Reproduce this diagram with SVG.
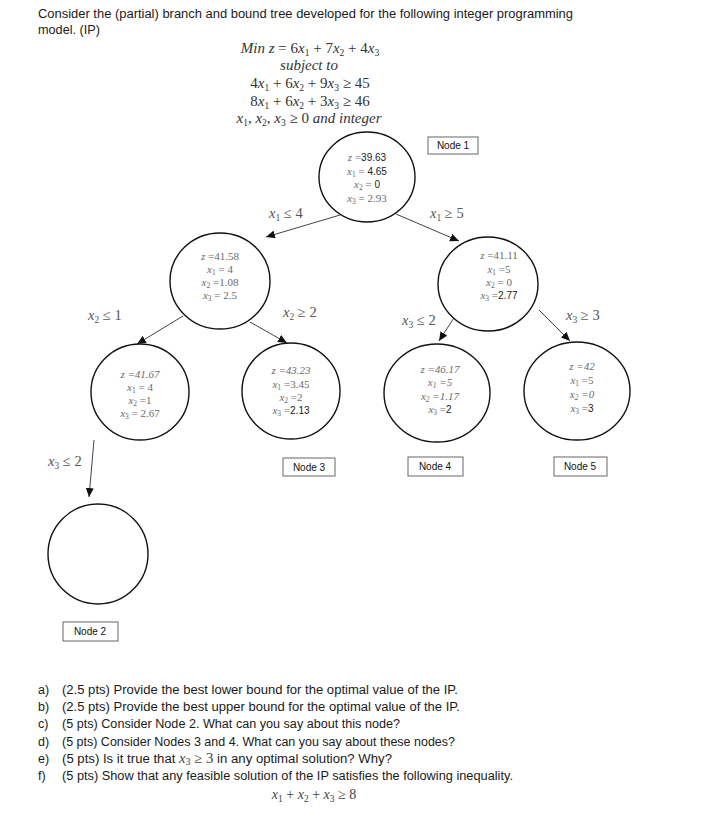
<svg xmlns="http://www.w3.org/2000/svg" width="725" height="835" viewBox="0 0 725 835">
<defs>
<marker id="ah" markerWidth="9" markerHeight="8" refX="9" refY="4" orient="auto" markerUnits="userSpaceOnUse"><path d="M0,0 L9,4 L0,8 z" fill="#111"/></marker>
</defs>
<style>
.t{font-family:"Liberation Sans",Arial,sans-serif;font-size:12.5px;fill:#1a1a1a}
.m{font-family:"Liberation Serif","DejaVu Serif",serif;font-size:15px;fill:#333;text-anchor:middle}
.i{font-style:italic}
.s{font-size:9.5px}
.ss{font-size:7.5px}
.n{font-family:"Liberation Serif","DejaVu Serif",serif;font-size:11px;fill:#6b6b6b;text-anchor:middle}
.d{font-family:"Liberation Sans",Arial,sans-serif;fill:#222;font-size:10px}
.lb{font-family:"Liberation Serif","DejaVu Serif",serif;font-size:14.5px;fill:#555}
.c{fill:#fff;stroke:#111;stroke-width:1.4}
.bx{fill:#fff;stroke:#666;stroke-width:1}
.bt{font-family:"Liberation Sans",Arial,sans-serif;font-size:10px;fill:#111;text-anchor:middle}
.e{stroke:#444;stroke-width:1;fill:none;marker-end:url(#ah)}
</style>

<g id="intro">
<text class="t" x="38" y="18" textLength="535" lengthAdjust="spacingAndGlyphs">Consider the (partial) branch and bound tree developed for the following integer programming</text>
<text class="t" x="38" y="34" textLength="62" lengthAdjust="spacingAndGlyphs">model. (IP)</text>
</g>

<g id="model">
<text class="m" x="310" y="53"><tspan class="i">Min z</tspan> = 6<tspan class="i">x</tspan><tspan class="s" dy="3">1</tspan><tspan dy="-3"> + 7</tspan><tspan class="i">x</tspan><tspan class="s" dy="3">2</tspan><tspan dy="-3"> + 4</tspan><tspan class="i">x</tspan><tspan class="s" dy="3">3</tspan></text>
<text class="m i" x="309" y="70">subject to</text>
<text class="m" x="310" y="88">4<tspan class="i">x</tspan><tspan class="s" dy="3">1</tspan><tspan dy="-3"> + 6</tspan><tspan class="i">x</tspan><tspan class="s" dy="3">2</tspan><tspan dy="-3"> + 9</tspan><tspan class="i">x</tspan><tspan class="s" dy="3">3</tspan><tspan dy="-3"> ≥ 45</tspan></text>
<text class="m" x="310" y="106">8<tspan class="i">x</tspan><tspan class="s" dy="3">1</tspan><tspan dy="-3"> + 6</tspan><tspan class="i">x</tspan><tspan class="s" dy="3">2</tspan><tspan dy="-3"> + 3</tspan><tspan class="i">x</tspan><tspan class="s" dy="3">3</tspan><tspan dy="-3"> ≥ 46</tspan></text>
<text class="m" x="309" y="123"><tspan class="i">x</tspan><tspan class="s" dy="3">1</tspan><tspan dy="-3">, </tspan><tspan class="i">x</tspan><tspan class="s" dy="3">2</tspan><tspan dy="-3">, </tspan><tspan class="i">x</tspan><tspan class="s" dy="3">3</tspan><tspan dy="-3"> ≥ 0 </tspan><tspan class="i">and integer</tspan></text>
</g>

<g id="connectors">
<line class="e" x1="340" y1="215" x2="266" y2="237"/>
<line class="e" x1="396" y1="214" x2="459" y2="241"/>
<line class="e" x1="183" y1="316" x2="137" y2="344"/>
<line class="e" x1="250" y1="322" x2="287" y2="343"/>
<line class="e" x1="459" y1="310" x2="439" y2="341"/>
<line class="e" x1="539" y1="310" x2="570" y2="341"/>
<line class="e" x1="94" y1="440" x2="89" y2="497"/>
<text class="lb" x="269" y="218"><tspan class="i">x</tspan><tspan class="s" dy="3">1</tspan><tspan dy="-3"> ≤ 4</tspan></text>
<text class="lb" x="430" y="218"><tspan class="i">x</tspan><tspan class="s" dy="3">1</tspan><tspan dy="-3"> ≥ 5</tspan></text>
<text class="lb" x="88" y="320"><tspan class="i">x</tspan><tspan class="s" dy="3">2</tspan><tspan dy="-3"> ≤ 1</tspan></text>
<text class="lb" x="283" y="317"><tspan class="i">x</tspan><tspan class="s" dy="3">2</tspan><tspan dy="-3"> ≥ 2</tspan></text>
<text class="lb" x="402" y="325"><tspan class="i">x</tspan><tspan class="s" dy="3">3</tspan><tspan dy="-3"> ≤ 2</tspan></text>
<text class="lb" x="566" y="320"><tspan class="i">x</tspan><tspan class="s" dy="3">3</tspan><tspan dy="-3"> ≥ 3</tspan></text>
<text class="lb" x="48" y="466"><tspan class="i">x</tspan><tspan class="s" dy="3">3</tspan><tspan dy="-3"> ≤ 2</tspan></text>
</g>

<g id="node1">
<ellipse class="c" cx="367" cy="177" rx="48" ry="45"/>
<text class="n" x="367" y="161"><tspan class="i">z</tspan> =<tspan class="d">39.63</tspan></text>
<text class="n" x="367" y="175"><tspan class="i">x</tspan><tspan class="ss" dy="2">1</tspan><tspan dy="-2"> = </tspan><tspan class="d">4.65</tspan></text>
<text class="n" x="367" y="188"><tspan class="i">x</tspan><tspan class="ss" dy="2">2</tspan><tspan dy="-2"> = </tspan><tspan class="d">0</tspan></text>
<text class="n" x="367" y="202"><tspan class="i">x</tspan><tspan class="ss" dy="2">3</tspan><tspan dy="-2"> = 2.93</tspan></text>
<rect class="bx" x="428" y="137" width="50" height="17"/>
<text class="bt" x="453" y="149">Node 1</text>
</g>

<g id="nodeL">
<ellipse class="c" cx="220" cy="281" rx="50" ry="48"/>
<text class="n" x="220" y="260"><tspan class="i">z</tspan> =41.58</text>
<text class="n" x="220" y="273"><tspan class="i">x</tspan><tspan class="ss" dy="2">1</tspan><tspan dy="-2"> = 4</tspan></text>
<text class="n" x="220" y="286"><tspan class="i">x</tspan><tspan class="ss" dy="2">2</tspan><tspan dy="-2"> =1.08</tspan></text>
<text class="n" x="220" y="299"><tspan class="i">x</tspan><tspan class="ss" dy="2">3</tspan><tspan dy="-2"> = 2.5</tspan></text>
</g>

<g id="nodeR">
<ellipse class="c" cx="488" cy="284" rx="50" ry="47"/>
<text class="n" x="499" y="259"><tspan class="i">z</tspan> =41.11</text>
<text class="n" x="499" y="273"><tspan class="i">x</tspan><tspan class="ss" dy="2">1</tspan><tspan dy="-2"> =5</tspan></text>
<text class="n" x="499" y="286"><tspan class="i">x</tspan><tspan class="ss" dy="2">2</tspan><tspan dy="-2"> = 0</tspan></text>
<text class="n" x="499" y="299"><tspan class="i">x</tspan><tspan class="ss" dy="2">3</tspan><tspan dy="-2"> =</tspan><tspan class="d">2.77</tspan></text>
</g>

<g id="node2parent">
<ellipse class="c" cx="140" cy="392" rx="49" ry="48"/>
<text class="n i" x="140" y="378">z =41.67</text>
<text class="n" x="140" y="391"><tspan class="i">x</tspan><tspan class="ss" dy="2">1</tspan><tspan dy="-2"> = 4</tspan></text>
<text class="n" x="140" y="404"><tspan class="i">x</tspan><tspan class="ss" dy="2">2</tspan><tspan dy="-2"> =1</tspan></text>
<text class="n" x="140" y="417"><tspan class="i">x</tspan><tspan class="ss" dy="2">3</tspan><tspan dy="-2"> = 2.67</tspan></text>
</g>

<g id="node3">
<ellipse class="c" cx="291" cy="391" rx="49" ry="48"/>
<text class="n i" x="291" y="374">z =43.23</text>
<text class="n" x="291" y="388"><tspan class="i">x</tspan><tspan class="ss" dy="2">1</tspan><tspan dy="-2"> =3.45</tspan></text>
<text class="n" x="291" y="401"><tspan class="i">x</tspan><tspan class="ss" dy="2">2</tspan><tspan dy="-2"> =2</tspan></text>
<text class="n" x="291" y="414"><tspan class="i">x</tspan><tspan class="ss" dy="2">3</tspan><tspan dy="-2"> =</tspan><tspan class="d">2.13</tspan></text>
<rect class="bx" x="283" y="458" width="52" height="18"/>
<text class="bt" x="309" y="471">Node 3</text>
</g>

<g id="node4">
<ellipse class="c" cx="437" cy="393" rx="53" ry="49"/>
<text class="n i" x="440" y="373">z =46.17</text>
<text class="n i" x="440" y="386">x<tspan class="ss" dy="2">1</tspan><tspan dy="-2"> =5</tspan></text>
<text class="n i" x="440" y="400">x<tspan class="ss" dy="2">2</tspan><tspan dy="-2"> =1.17</tspan></text>
<text class="n" x="440" y="413"><tspan class="i">x</tspan><tspan class="ss" dy="2">3</tspan><tspan dy="-2"> =</tspan><tspan class="d">2</tspan></text>
<rect class="bx" x="408" y="457" width="55" height="19"/>
<text class="bt" x="435" y="470">Node 4</text>
</g>

<g id="node5">
<ellipse class="c" cx="577" cy="391" rx="53" ry="49"/>
<text class="n i" x="582" y="370">z =42</text>
<text class="n" x="582" y="384"><tspan class="i">x</tspan><tspan class="ss" dy="2">1</tspan><tspan dy="-2"> =5</tspan></text>
<text class="n i" x="582" y="398">x<tspan class="ss" dy="2">2</tspan><tspan dy="-2"> =0</tspan></text>
<text class="n" x="582" y="412"><tspan class="i">x</tspan><tspan class="ss" dy="2">3</tspan><tspan dy="-2"> =</tspan><tspan class="d">3</tspan></text>
<rect class="bx" x="554" y="457" width="53" height="19"/>
<text class="bt" x="580" y="470">Node 5</text>
</g>

<g id="node2">
<ellipse class="c" cx="98" cy="554" rx="50" ry="50"/>
<rect class="bx" x="63" y="622" width="55" height="19"/>
<text class="bt" x="90" y="635">Node 2</text>
</g>

<g id="questions">
<text class="t" x="38" y="694">a)</text>
<text class="t" x="62" y="694" textLength="396" lengthAdjust="spacingAndGlyphs">(2.5 pts) Provide the best lower bound for the optimal value of the IP.</text>
<text class="t" x="38" y="711">b)</text>
<text class="t" x="62" y="711" textLength="398" lengthAdjust="spacingAndGlyphs">(2.5 pts) Provide the best upper bound for the optimal value of the IP.</text>
<text class="t" x="38" y="728">c)</text>
<text class="t" x="62" y="728" textLength="338" lengthAdjust="spacingAndGlyphs">(5 pts) Consider Node 2. What can you say about this node?</text>
<text class="t" x="38" y="746">d)</text>
<text class="t" x="62" y="746" textLength="393" lengthAdjust="spacingAndGlyphs">(5 pts) Consider Nodes 3 and 4. What can you say about these nodes?</text>
<text class="t" x="38" y="763">e)</text>
<text class="t" x="62" y="763" textLength="330" lengthAdjust="spacingAndGlyphs">(5 pts) Is it true that <tspan class="i" font-family="Liberation Serif, serif" font-size="14" fill="#444">x</tspan><tspan font-family="Liberation Serif, serif" font-size="9.5" dy="2" fill="#444">3</tspan><tspan dy="-2" font-family="Liberation Serif, serif" font-size="14" fill="#444"> ≥ 3</tspan> in any optimal solution? Why?</text>
<text class="t" x="38" y="780">f)</text>
<text class="t" x="62" y="780" textLength="451" lengthAdjust="spacingAndGlyphs">(5 pts) Show that any feasible solution of the IP satisfies the following inequality.</text>
<text class="m" x="314" y="799" style="font-size:14px;fill:#444"><tspan class="i">x</tspan><tspan class="s" dy="3">1</tspan><tspan dy="-3"> + </tspan><tspan class="i">x</tspan><tspan class="s" dy="3">2</tspan><tspan dy="-3"> + </tspan><tspan class="i">x</tspan><tspan class="s" dy="3">3</tspan><tspan dy="-3"> ≥ 8</tspan></text>
</g>
</svg>
